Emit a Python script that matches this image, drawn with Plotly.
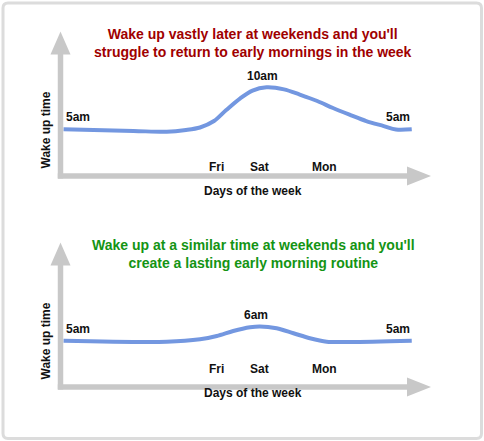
import plotly.graph_objects as go

# ----------------------------
# Data
# x = position along the week (0-100 scale), y = wake up hour
# ----------------------------
late_x = [1, 21, 30.5, 36, 40, 44, 47.5, 51.5, 55, 59, 64, 68.5, 73.5, 78, 83, 87.5, 92.5, 96, 100.5]
late_hours = [5.0, 4.8, 4.71, 4.92, 5.22, 5.99, 7.31, 8.71, 9.64, 10.02, 9.78, 9.16, 8.39, 7.55, 6.71, 5.99, 5.39, 4.97, 5.0]

steady_x = [1, 30.5, 40, 44.8, 49.5, 54.3, 57.1, 61.9, 66.7, 71.4, 76.2, 82.9, 100.5]
steady_hours = [5.0, 4.93, 5.1, 5.33, 5.68, 5.94, 6.0, 5.87, 5.52, 5.17, 4.93, 4.91, 5.0]

day_labels = ['Fri', 'Sat', 'Mon']
day_pos = [44.6, 56.9, 75.7]

titles = ["Wake up vastly later at weekends and you'll<br>struggle to return to early mornings in the week",
          "Wake up at a similar time at weekends and you'll<br>create a lasting early morning routine"]
title_colors = ['#a00000', '#149414']
peak_labels = ['10am', '6am']

# ----------------------------
# Layout helpers (pixel -> paper)
# ----------------------------
W, H = 484, 441
FONT = 'Liberation Sans, Arial, sans-serif'
GREY = '#c8c8c8'
BLUE = '#7397e0'


def px(x):
    return x / W


def py(y):
    return 1 - y / H


fig = go.Figure()

panels = [
    dict(dy=0, xs=late_x, ys=late_hours, xa='x', ya='y', yrange=[2, 12], ydom=[154.4, 70.8]),
    dict(dy=211, xs=steady_x, ys=steady_hours, xa='x2', ya='y2', yrange=[3, 8], ydom=[369.3, 297.8]),
]

shapes = []
annotations = []

for i, p in enumerate(panels):
    dy = p['dy']
    fig.add_trace(go.Scatter(
        x=p['xs'], y=p['ys'], mode='lines',
        line=dict(color=BLUE, width=4, shape='spline', smoothing=0.9),
        xaxis=p['xa'], yaxis=p['ya'], hoverinfo='skip', showlegend=False,
    ))

    # axis arrows
    shapes.append(dict(type='line', xref='paper', yref='paper',
                       x0=px(60.5), y0=py(178.5 + dy), x1=px(60.5), y1=py(53 + dy),
                       line=dict(color=GREY, width=5.5)))
    shapes.append(dict(type='path', xref='paper', yref='paper', fillcolor=GREY, line=dict(width=0),
                       path=f'M {px(60.5)},{py(31.5 + dy)} L {px(50.5)},{py(54.5 + dy)} '
                            f'L {px(70.5)},{py(54.5 + dy)} Z'))
    shapes.append(dict(type='line', xref='paper', yref='paper',
                       x0=px(57.8), y0=py(176 + dy), x1=px(409), y1=py(176 + dy),
                       line=dict(color=GREY, width=5.5)))
    shapes.append(dict(type='path', xref='paper', yref='paper', fillcolor=GREY, line=dict(width=0),
                       path=f'M {px(431)},{py(176 + dy)} L {px(407)},{py(166.5 + dy)} '
                            f'L {px(407)},{py(185.5 + dy)} Z'))

    # title
    annotations.append(dict(xref='paper', yref='paper', x=px(253), y=py(43.3 + dy),
                            text=f'<b>{titles[i]}</b>', showarrow=False, xanchor='center', yanchor='middle',
                            font=dict(family=FONT, size=14, color=title_colors[i])))
    # axis titles
    annotations.append(dict(xref='paper', yref='paper', x=px(252.5), y=py(191 + dy),
                            text='<b>Days of the week</b>', showarrow=False,
                            font=dict(family=FONT, size=12, color='#111')))
    annotations.append(dict(xref='paper', yref='paper', x=px(45), y=py(130.5 + dy),
                            text='<b>Wake up time</b>', showarrow=False, textangle=-90,
                            xanchor='center', yanchor='middle',
                            font=dict(family=FONT, size=12, color='#111')))
    # day labels
    for d, pos in zip(day_labels, day_pos):
        annotations.append(dict(xref=p['xa'], yref='paper', x=pos, y=py(166.5 + dy),
                                text=f'<b>{d}</b>', showarrow=False,
                                font=dict(family=FONT, size=12, color='#111')))
    # value labels
    peak = p['ys'].index(max(p['ys']))
    annotations.append(dict(xref=p['xa'], yref=p['ya'], x=p['xs'][0], y=p['ys'][0],
                            text='<b>5am</b>', showarrow=False, xanchor='left', yanchor='bottom', yshift=3,
                            font=dict(family=FONT, size=12, color='#111')))
    annotations.append(dict(xref=p['xa'], yref=p['ya'], x=p['xs'][-1], y=p['ys'][-1],
                            text='<b>5am</b>', showarrow=False, xanchor='right', yanchor='bottom', yshift=3,
                            font=dict(family=FONT, size=12, color='#111')))
    annotations.append(dict(xref=p['xa'], yref=p['ya'], x=p['xs'][peak], y=p['ys'][peak],
                            text=f'<b>{peak_labels[i]}</b>', showarrow=False, yanchor='bottom',
                            xshift=-4, yshift=2,
                            font=dict(family=FONT, size=12, color='#111')))

# rounded outer border
r = 5
x0, x1, y0, y1 = 3, 481.5, 3, 438.5
border = (f'M {px(x0 + r)},{py(y0)} L {px(x1 - r)},{py(y0)} Q {px(x1)},{py(y0)} {px(x1)},{py(y0 + r)} '
          f'L {px(x1)},{py(y1 - r)} Q {px(x1)},{py(y1)} {px(x1 - r)},{py(y1)} '
          f'L {px(x0 + r)},{py(y1)} Q {px(x0)},{py(y1)} {px(x0)},{py(y1 - r)} '
          f'L {px(x0)},{py(y0 + r)} Q {px(x0)},{py(y0)} {px(x0 + r)},{py(y0)} Z')
shapes.append(dict(type='path', xref='paper', yref='paper', path=border,
                   line=dict(color='#dcdcdc', width=3)))

axis_hidden = dict(visible=False, showgrid=False, zeroline=False, fixedrange=True)

fig.update_layout(
    width=W, height=H,
    margin=dict(l=0, r=0, t=0, b=0),
    plot_bgcolor='white', paper_bgcolor='white',
    showlegend=False,
    shapes=shapes,
    annotations=annotations,
    xaxis=dict(domain=[px(60), px(431)], range=[0, 106], anchor='y', **axis_hidden),
    xaxis2=dict(domain=[px(60), px(431)], range=[0, 106], anchor='y2', **axis_hidden),
    yaxis=dict(domain=[py(panels[0]['ydom'][0]), py(panels[0]['ydom'][1])], range=panels[0]['yrange'],
               anchor='x', **axis_hidden),
    yaxis2=dict(domain=[py(panels[1]['ydom'][0]), py(panels[1]['ydom'][1])], range=panels[1]['yrange'],
                anchor='x2', **axis_hidden),
)

# page body has a default margin; drop it so the figure sits at the window origin
fig.write_html("out.html", config={'displayModeBar': False},
               post_script="document.body.style.margin='0';")
